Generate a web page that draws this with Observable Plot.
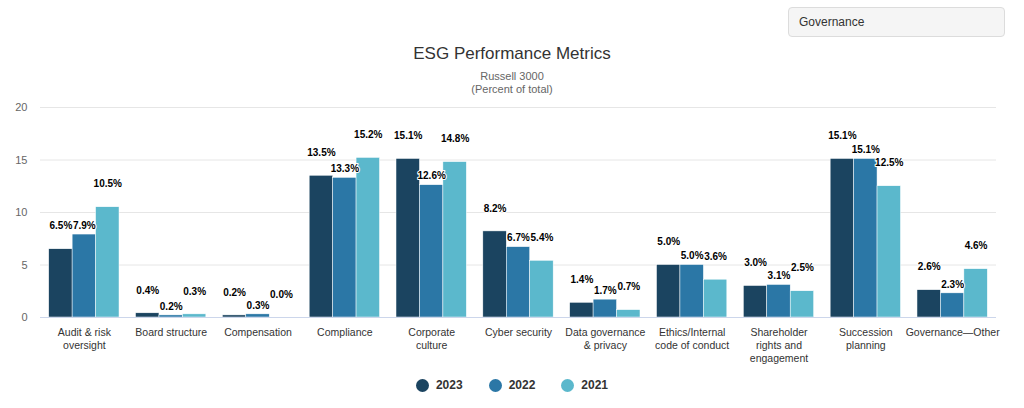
<!DOCTYPE html>
<html>
<head>
<meta charset="utf-8">
<script src="https://cdn.jsdelivr.net/npm/d3@7"></script>
<script src="https://cdn.jsdelivr.net/npm/@observablehq/plot@0.6"></script>
<style>
  body { margin: 0; background: #fff; font-family: "Liberation Sans", Arial, sans-serif; }
  #wrap { position: relative; width: 1024px; height: 408px; overflow: hidden; }
  #select { position: absolute; left: 788px; top: 7px; width: 217px; height: 30px; box-sizing: border-box;
    background: #f5f5f5; border: 1px solid #dcdcdc; border-radius: 4px; font-size: 12px; color: #333;
    line-height: 28px; padding-left: 10px; }
  #title { position: absolute; top: 44px; width: 1024px; text-align: center; font-size: 17px; color: #333; }
  #sub { position: absolute; top: 70px; width: 1024px; text-align: center; font-size: 11px; color: #666; line-height: 13px; }
  #chart { position: absolute; top: 100px; left: 0; }
  #legend { position: absolute; top: 378px; width: 1024px; display: flex; justify-content: center; gap: 26px;
    font-size: 12px; font-weight: bold; color: #333; }
  #legend span { display: flex; align-items: center; gap: 7px; }
  #legend i { display: inline-block; width: 13px; height: 13px; border-radius: 50%; }
</style>
</head>
<body>
<div id="wrap">
  <div id="select">Governance</div>
  <div id="title">ESG Performance Metrics</div>
  <div id="sub">Russell 3000<br>(Percent of total)</div>
  <div id="chart"></div>
  <div id="legend"></div>
</div>
<script>
const categories = [
  "Audit & risk\noversight", "Board structure", "Compensation", "Compliance",
  "Corporate\nculture", "Cyber security", "Data governance\n& privacy",
  "Ethics/Internal\ncode of conduct", "Shareholder\nrights and\nengagement",
  "Succession\nplanning", "Governance\u2014Other"
];
const years = ["2023", "2022", "2021"];
const values2023 = [6.5, 0.4, 0.2, 13.5, 15.1, 8.2, 1.4, 5.0, 3.0, 15.1, 2.6];
const values2022 = [7.9, 0.2, 0.3, 13.3, 12.6, 6.7, 1.7, 5.0, 3.1, 15.1, 2.3];
const values2021 = [10.5, 0.3, 0.0, 15.2, 14.8, 5.4, 0.7, 3.6, 2.5, 12.5, 4.6];
const yTicks = [0, 5, 10, 15, 20];
const colors = ["#1b4460", "#2b77a6", "#5bb8cc"];

const series = [values2023, values2022, values2021];
const data = [];
categories.forEach((c, i) => years.forEach((y, j) => data.push({category: c, year: y, value: series[j][i]})));

const W = 1024, ML = 40, MR = 28, PIN = 0.19, POUT = 0.1;
const bw = d3.scaleBand().domain(categories).range([ML, W - MR]).paddingInner(PIN).paddingOuter(POUT).bandwidth();
const third = bw / 3;
const labelDy = {"2023": -23, "2022": -9, "2021": -23};

const plot = Plot.plot({
  width: W,
  height: 268,
  marginTop: 7,
  marginLeft: ML,
  marginRight: MR,
  marginBottom: 51,
  style: {fontFamily: "Liberation Sans, Arial, sans-serif", background: "transparent"},
  x: {domain: categories, paddingInner: PIN, paddingOuter: POUT, round: false, label: null},
  y: {domain: [0, 20], label: null},
  color: {domain: years, range: colors},
  marks: [
    Plot.gridY(yTicks.slice(1), {stroke: "#e6e6e6", strokeOpacity: 1}),
    Plot.axisY(yTicks, {tickSize: 0, tickPadding: 13, fontSize: 11, fill: "#666", label: null}),
    Plot.axisX({tickSize: 0, tickPadding: 9, fontSize: 10.5, fill: "#333", lineHeight: 1.24, label: null}),
    ...years.map((yr, j) => Plot.barY(data.filter(d => d.year === yr), {
      x: "category", y: "value", fill: "year", stroke: "#fff", strokeWidth: 0.5,
      insetLeft: j * third, insetRight: (2 - j) * third
    })),
    Plot.ruleY([0], {stroke: "#ccd6eb"}),
    ...years.map((yr, j) => Plot.text(data.filter(d => d.year === yr), {
      x: "category", y: "value", text: d => d.value.toFixed(1) + "%",
      dx: (j - 1) * third, dy: labelDy[yr], fontSize: 10, fontWeight: "bold", fill: "#000",
      stroke: "#fff", strokeWidth: 2, paintOrder: "stroke"
    }))
  ]
});
document.getElementById("chart").appendChild(plot);

const legend = document.getElementById("legend");
years.forEach((y, j) => {
  const s = document.createElement("span");
  s.innerHTML = `<i style="background:${colors[j]}"></i>${y}`;
  legend.appendChild(s);
});
</script>
</body>
</html>
